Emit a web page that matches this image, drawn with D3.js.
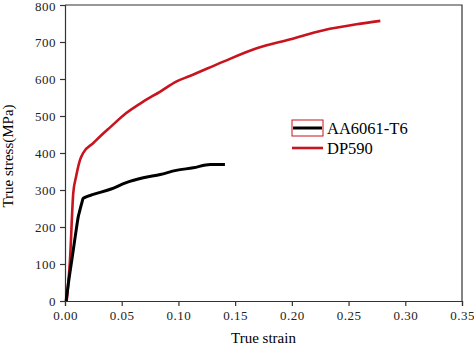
<!DOCTYPE html>
<html>
<head>
<meta charset="utf-8">
<script src="https://cdn.jsdelivr.net/npm/d3@7"></script>
<style>
  html, body { margin: 0; padding: 0; background: #fff; }
  svg { display: block; }
  .tick text { font-family: "Liberation Serif", "Times New Roman", serif; font-size: 13px; fill: #222; letter-spacing: 0.5px; }
</style>
</head>
<body>
<svg id="chart" width="474" height="347"></svg>
<script>
// True stress–strain curves for two sheet materials
const aaStrain = [0.001, 0.003, 0.006, 0.0073, 0.0103, 0.0117, 0.0132, 0.0147, 0.016, 0.0176, 0.025, 0.040, 0.054, 0.069, 0.084, 0.098, 0.113, 0.128, 0.141];
const aaStress = [0, 48, 111, 138, 201, 228, 246, 264, 277, 280, 288, 302, 320, 333, 342, 353, 360, 369, 369];

const dpStrain = [0.0015, 0.0044, 0.0073, 0.0097, 0.0132, 0.016, 0.025, 0.032, 0.040, 0.054, 0.069, 0.084, 0.098, 0.110, 0.1396, 0.169, 0.198, 0.228, 0.257, 0.278];
const dpStress = [0, 111, 292, 335, 381, 400, 427, 448, 470, 508, 539, 566, 593, 608, 647, 683, 707, 732, 748, 757];

const xTicks = [0, 0.05, 0.10, 0.15, 0.20, 0.25, 0.30, 0.35];
const yTicks = [0, 100, 200, 300, 400, 500, 600, 700, 800];

const seriesNames = ["AA6061-T6", "DP590"];
const seriesColors = ["#000000", "#c8141e"];

const svg = d3.select("#chart");
const plot = { left: 65, right: 462, top: 5, bottom: 301 };

const x = d3.scaleLinear().domain([0, 0.35]).range([plot.left, plot.right]);
const y = d3.scaleLinear().domain([0, 800]).range([plot.bottom, plot.top]);

// frame: top and right edges
svg.append("path")
  .attr("d", `M${plot.left},${plot.top}H${plot.right}V${plot.bottom}`)
  .attr("fill", "none").attr("stroke", "#333").attr("stroke-width", 1.2);

const xAxis = svg.append("g")
  .attr("transform", `translate(0,${plot.bottom})`)
  .call(d3.axisBottom(x).tickValues(xTicks).tickFormat(d3.format(".2f")).tickSize(5).tickPadding(5));
const yAxis = svg.append("g")
  .attr("transform", `translate(${plot.left},0)`)
  .call(d3.axisLeft(y).tickValues(yTicks).tickFormat(d3.format("d")).tickSize(5).tickPadding(4));
[xAxis, yAxis].forEach(g => {
  g.select(".domain").attr("stroke", "#333").attr("stroke-width", 1.2);
  g.selectAll(".tick line").attr("stroke", "#333").attr("stroke-width", 1.2);
});
// keep the top label inside the page
yAxis.selectAll(".tick text").filter(d => d === 800).attr("dy", "0.45em");

// curves
const line = d3.line().x(d => x(d[0])).y(d => y(d[1])).curve(d3.curveMonotoneX);
const aaData = aaStrain.map((s, i) => [s, aaStress[i]]);
const dpData = dpStrain.map((s, i) => [s, dpStress[i]]);

svg.append("path").datum(dpData)
  .attr("d", line).attr("fill", "none")
  .attr("stroke", seriesColors[1]).attr("stroke-width", 2.6).attr("stroke-linejoin", "round");
svg.append("path").datum(aaData)
  .attr("d", line).attr("fill", "none")
  .attr("stroke", seriesColors[0]).attr("stroke-width", 3).attr("stroke-linejoin", "round");

// axis titles
svg.append("text")
  .attr("x", (plot.left + plot.right) / 2).attr("y", 343)
  .attr("text-anchor", "middle")
  .style("font-family", "Liberation Serif, Times New Roman, serif").style("font-size", "15px")
  .text("True strain");
svg.append("text")
  .attr("transform", `translate(13,156) rotate(-90)`)
  .attr("text-anchor", "middle")
  .style("font-family", "Liberation Serif, Times New Roman, serif").style("font-size", "15px")
  .text("True stress(MPa)");

// legend
const legend = svg.append("g").attr("transform", "translate(292,120)");
legend.append("rect").attr("x", 0).attr("y", 0).attr("width", 31).attr("height", 16)
  .attr("fill", "none").attr("stroke", seriesColors[1]).attr("stroke-width", 1);
legend.append("line").attr("x1", 1).attr("x2", 30).attr("y1", 8).attr("y2", 8)
  .attr("stroke", seriesColors[0]).attr("stroke-width", 3);
legend.append("line").attr("x1", 0).attr("x2", 31).attr("y1", 28).attr("y2", 28)
  .attr("stroke", seriesColors[1]).attr("stroke-width", 2.6);
legend.selectAll("text.lbl").data(seriesNames).enter().append("text")
  .attr("class", "lbl")
  .attr("x", 35).attr("y", (d, i) => 14 + i * 20)
  .style("font-family", "Liberation Serif, Times New Roman, serif").style("font-size", "16.5px")
  .text(d => d);
</script>
</body>
</html>
